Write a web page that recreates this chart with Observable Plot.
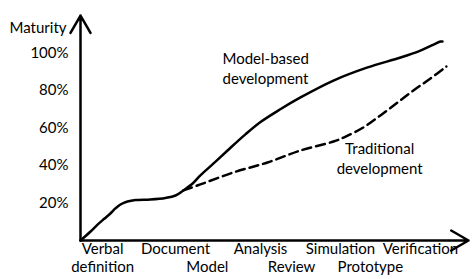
<!DOCTYPE html>
<html>
<head>
<meta charset="utf-8">
<script src="https://cdn.jsdelivr.net/npm/d3@7"></script>
<script src="https://cdn.jsdelivr.net/npm/@observablehq/plot@0.6"></script>
<style>
  html, body { margin: 0; padding: 0; background: #fff; }
  #chart svg { display: block; }
</style>
</head>
<body>
<div id="chart"></div>
<script>
// Stage labels along the x axis (development progress 0–100)
const stages = ["Verbal\ndefinition", "Document", "Model", "Analysis", "Review", "Simulation", "Prototype", "Verification"];
const stagePos = [5.7, 24.5, 32.7, 46.4, 54.4, 67.0, 74.7, 87.6];
const stageRow = [0, 0, 1, 0, 1, 0, 1, 0];

// Y tick values (maturity %)
const yTicks = [20, 40, 60, 80, 100];

// Model-based development curve
const modelX = [0, 2.6, 4.4, 6.2, 7.7, 9.0, 10.3, 12.1, 14.2, 18.0, 21.9, 24.5, 26.5, 28.9, 30.9, 34.3, 37.9, 42.5, 46.4, 51.5, 56.7, 65.2, 74.0, 82.5, 87.6, 91.0, 92.8, 93.3];
const modelY = [0, 4.8, 8.5, 11.7, 14.4, 17.1, 19.2, 20.8, 21.6, 21.9, 22.7, 24.0, 26.7, 30.4, 34.7, 41.1, 48.0, 56.6, 63.2, 70.0, 76.3, 85.3, 92.3, 97.6, 101.3, 104.5, 106.1, 106.1];

// Traditional development curve (branches from model curve)
const tradX = [26.5, 30.9, 39.4, 48.2, 56.7, 65.2, 67.8, 72.9, 77.3, 81.7, 85.8, 90.2, 94.3];
const tradY = [26.7, 29.9, 36.3, 41.6, 48.0, 52.8, 54.9, 60.3, 66.7, 73.6, 80.0, 86.4, 92.8];

const model = modelX.map((x, i) => ({x, y: modelY[i]}));
const trad = tradX.map((x, i) => ({x, y: tradY[i]}));
const stageData = stages.map((s, i) => ({label: s, x: stagePos[i], row: stageRow[i]}));

const font = "Lato, 'Open Sans', sans-serif";

const chart = Plot.plot({
  width: 474,
  height: 279,
  marginLeft: 80,
  marginRight: 6,
  marginTop: 15,
  marginBottom: 39,
  style: {fontFamily: font, fontSize: "15px", color: "#000", background: "#fff"},
  x: {domain: [0, 100], axis: null},
  y: {domain: [0, 120], axis: null},
  marks: [
    Plot.axisY({ticks: yTicks, tickFormat: d => d + "%", tickSize: 0, tickPadding: 12, fontSize: 15, label: null}),
    Plot.text([{x: 0, y: 113}], {x: "x", y: "y", text: () => "Maturity", textAnchor: "end", dx: -14, fontSize: 15}),
    Plot.arrow([{x1: 0, y1: 0, x2: 0, y2: 120}], {x1: "x1", y1: "y1", x2: "x2", y2: "y2", stroke: "#000", strokeWidth: 2.5, headLength: 12, bend: 0, insetEnd: 0}),
    Plot.arrow([{x1: 0, y1: 0, x2: 100, y2: 0}], {x1: "x1", y1: "y1", x2: "x2", y2: "y2", stroke: "#000", strokeWidth: 2.5, headLength: 12, bend: 0, insetEnd: 0}),
    Plot.line(trad, {x: "x", y: "y", stroke: "#000", strokeWidth: 2.5, strokeDasharray: "9,5", curve: "catmull-rom"}),
    Plot.line(model, {x: "x", y: "y", stroke: "#000", strokeWidth: 2.5, curve: "catmull-rom"}),
    Plot.text(stageData.filter(d => d.row === 0), {x: "x", y: () => 0, text: "label", lineAnchor: "top", dy: 1, lineHeight: 1.2, fontSize: 15}),
    Plot.text(stageData.filter(d => d.row === 1), {x: "x", y: () => 0, text: "label", lineAnchor: "top", dy: 19, lineHeight: 1.2, fontSize: 15}),
    Plot.text([{x: 36.6, y: 92.3}], {x: "x", y: "y", text: () => "Model-based\ndevelopment", textAnchor: "start", lineAnchor: "middle", lineHeight: 1.33, fontSize: 15}),
    Plot.text([{x: 77.1, y: 44.3}], {x: "x", y: "y", text: () => "Traditional\ndevelopment", textAnchor: "middle", lineAnchor: "middle", lineHeight: 1.33, fontSize: 15})
  ]
});
document.getElementById("chart").appendChild(chart);
</script>
</body>
</html>
